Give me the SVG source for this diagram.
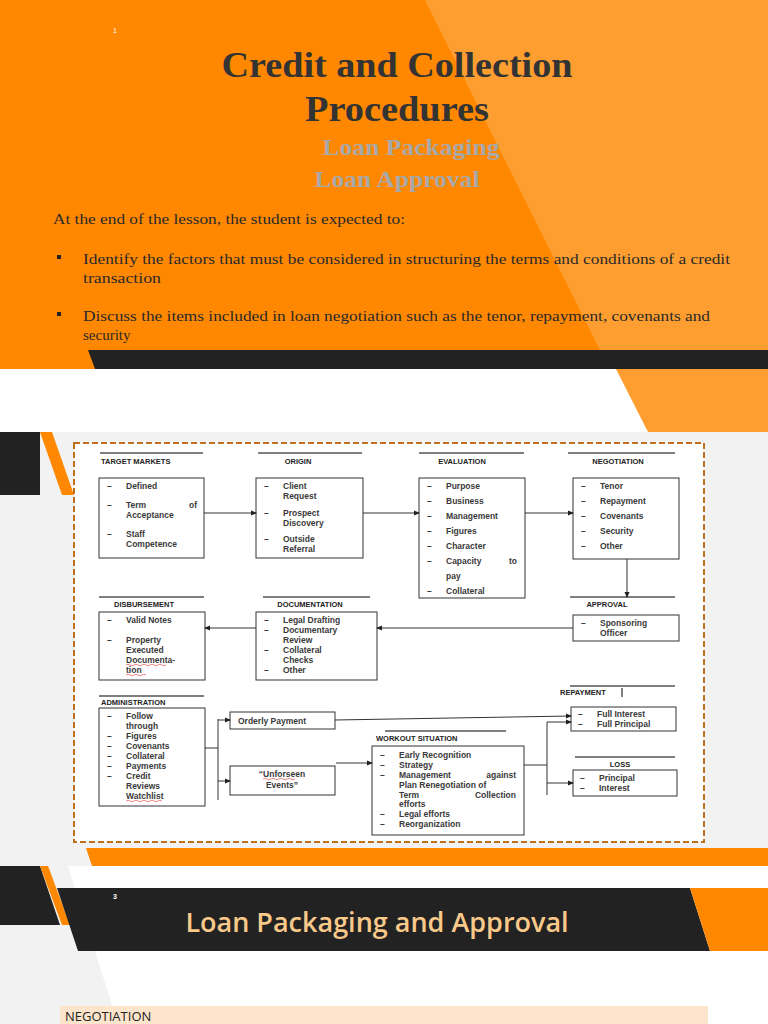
<svg xmlns="http://www.w3.org/2000/svg" width="768" height="1024" viewBox="0 0 768 1024">
<defs>
<marker id="ah" markerWidth="6" markerHeight="6" refX="5" refY="3" orient="auto" markerUnits="userSpaceOnUse"><path d="M0,0.5 L6,3 L0,5.5z" fill="#222"/></marker>
<style>
.t{font-family:"Liberation Sans",Arial,sans-serif;font-size:8.5px;font-weight:bold;fill:#3a3a3a}
.h{font-family:"Liberation Sans",Arial,sans-serif;font-size:7.5px;font-weight:bold;fill:#222}
.b{fill:#fff;stroke:#333;stroke-width:1}
.hl{stroke:#555;stroke-width:1.3}
.c{stroke:#333;stroke-width:1;fill:none}
.ca{stroke:#333;stroke-width:1;fill:none;marker-end:url(#ah)}
.o{font-family:"Liberation Serif","Times New Roman",serif;font-size:15px;fill:#2a2a2a}
</style>
</defs>
<!-- slide 1 -->
<rect x="0" y="0" width="768" height="370" fill="#FF8800"/>
<polygon points="425,0 768,0 768,370 610,370" fill="#FF9E30"/>
<polygon points="88,350 768,350 768,369 95,369" fill="#222"/>
<rect x="0" y="369" width="768" height="63" fill="#fff"/>
<polygon points="616,369 768,369 768,432 648,432" fill="#FF9E30"/>
<text x="113" y="33" font-family="Liberation Sans,sans-serif" font-size="7" fill="#fff">1</text>
<g font-family="'Liberation Serif','Times New Roman',serif" font-weight="bold" text-anchor="middle">
<text x="397" y="77" font-size="36" fill="#333" textLength="351" lengthAdjust="spacingAndGlyphs">Credit and Collection</text>
<text x="397" y="121" font-size="36" fill="#333" textLength="184" lengthAdjust="spacingAndGlyphs">Procedures</text>
<text x="411" y="155" font-size="23" fill="#A8A8A8" textLength="177" lengthAdjust="spacingAndGlyphs">Loan Packaging</text>
<text x="397" y="187" font-size="23" fill="#A8A8A8" textLength="165" lengthAdjust="spacingAndGlyphs">Loan Approval</text>
</g>
<text class="o" x="53" y="224" font-size="16" textLength="352" lengthAdjust="spacingAndGlyphs">At the end of the lesson, the student is expected to:</text>
<rect x="57" y="255" width="4" height="4" fill="#222"/>
<text class="o" x="83" y="264" font-size="16" textLength="647" lengthAdjust="spacingAndGlyphs">Identify the factors that must be considered in structuring the terms and conditions of a credit</text>
<text class="o" x="83" y="283" font-size="16" textLength="78" lengthAdjust="spacingAndGlyphs">transaction</text>
<rect x="57" y="312" width="4" height="4" fill="#222"/>
<text class="o" x="83" y="321" font-size="16" textLength="627" lengthAdjust="spacingAndGlyphs">Discuss the items included in loan negotiation such as the tenor, repayment, covenants and</text>
<text class="o" x="83" y="340" font-size="16">security</text>
<!-- slide 2 -->
<rect x="0" y="432" width="768" height="434" fill="#F2F2F2"/>
<polygon points="0,432 40,432 40,495 0,495" fill="#222"/>
<polygon points="40,432 52,432 74,495 62,495" fill="#FF8800"/>
<polygon points="86,848 768,848 768,866 92,866" fill="#FF8800"/>
<rect x="74" y="443" width="630" height="399" fill="#fff" stroke="#C0701A" stroke-width="2" stroke-dasharray="6,3"/>
<g id="target"><line class="hl" x1="100" y1="453" x2="203" y2="453"/><text class="h" x="101" y="464">TARGET MARKETS</text>
<rect class="b" x="99" y="478" width="105" height="80"/>
<text class="t" x="107" y="489">–</text><text class="t" x="126" y="489">Defined</text>
<text class="t" x="107" y="508">–</text><text class="t" x="126" y="508">Term</text><text class="t" x="197" y="508" text-anchor="end">of</text><text class="t" x="126" y="518">Acceptance</text>
<text class="t" x="107" y="537">–</text><text class="t" x="126" y="537">Staff</text><text class="t" x="126" y="547">Competence</text></g>
<g id="origin"><line class="hl" x1="258" y1="453" x2="362" y2="453"/><text class="h" x="298" y="464" text-anchor="middle">ORIGIN</text>
<rect class="b" x="256" y="478" width="107" height="80"/>
<text class="t" x="264" y="489">–</text><text class="t" x="283" y="489">Client</text><text class="t" x="283" y="499">Request</text>
<text class="t" x="264" y="516">–</text><text class="t" x="283" y="516">Prospect</text><text class="t" x="283" y="526">Discovery</text>
<text class="t" x="264" y="542">–</text><text class="t" x="283" y="542">Outside</text><text class="t" x="283" y="552">Referral</text></g>
<g id="evaluation"><line class="hl" x1="419" y1="453" x2="524" y2="453"/><text class="h" x="462" y="464" text-anchor="middle">EVALUATION</text>
<rect class="b" x="419" y="478" width="106" height="120"/>
<g class="t"><text x="427" y="489">–</text><text x="446" y="489">Purpose</text>
<text x="427" y="504">–</text><text x="446" y="504">Business</text>
<text x="427" y="519">–</text><text x="446" y="519">Management</text>
<text x="427" y="534">–</text><text x="446" y="534">Figures</text>
<text x="427" y="549">–</text><text x="446" y="549">Character</text>
<text x="427" y="564">–</text><text x="446" y="564">Capacity</text><text x="517" y="564" text-anchor="end">to</text><text x="446" y="579">pay</text>
<text x="427" y="594">–</text><text x="446" y="594">Collateral</text></g></g>
<g id="negotiation"><line class="hl" x1="568" y1="453" x2="675" y2="453"/><text class="h" x="618" y="464" text-anchor="middle">NEGOTIATION</text>
<rect class="b" x="573" y="478" width="106" height="81"/>
<g class="t"><text x="581" y="489">–</text><text x="600" y="489">Tenor</text>
<text x="581" y="504">–</text><text x="600" y="504">Repayment</text>
<text x="581" y="519">–</text><text x="600" y="519">Covenants</text>
<text x="581" y="534">–</text><text x="600" y="534">Security</text>
<text x="581" y="549">–</text><text x="600" y="549">Other</text></g></g>
<g id="approval"><line class="hl" x1="570" y1="597" x2="675" y2="597"/><text class="h" x="607" y="607" text-anchor="middle">APPROVAL</text>
<rect class="b" x="573" y="615" width="106" height="26"/>
<text class="t" x="581" y="626">–</text><text class="t" x="600" y="626">Sponsoring</text><text class="t" x="600" y="636">Officer</text></g>
<g id="documentation"><line class="hl" x1="263" y1="597" x2="370" y2="597"/><text class="h" x="310" y="607" text-anchor="middle">DOCUMENTATION</text>
<rect class="b" x="256" y="612" width="121" height="68"/>
<g class="t"><text x="264" y="623">–</text><text x="283" y="623">Legal Drafting</text>
<text x="264" y="633">–</text><text x="283" y="633">Documentary</text><text x="283" y="643">Review</text>
<text x="264" y="653">–</text><text x="283" y="653">Collateral</text><text x="283" y="663">Checks</text>
<text x="264" y="673">–</text><text x="283" y="673">Other</text></g></g>
<g id="disbursement"><line class="hl" x1="99" y1="597" x2="204" y2="597"/><text class="h" x="144" y="607" text-anchor="middle">DISBURSEMENT</text>
<rect class="b" x="99" y="612" width="106" height="68"/>
<g class="t"><text x="107" y="623">–</text><text x="126" y="623">Valid Notes</text>
<text x="107" y="643">–</text><text x="126" y="643">Property</text><text x="126" y="653">Executed</text><text x="126" y="663">Documenta-</text><text x="126" y="673">tion</text></g>
<path d="M126,665 q2,-1.5 4,0 t4,0 t4,0 t4,0 t4,0 t4,0 t4,0 t4,0 t4,0 t4,0 M126,675 q2,-1.5 4,0 t4,0 t4,0 t4,0 t4,0" stroke="#d33" stroke-width="0.6" fill="none"/></g>
<g id="administration"><line class="hl" x1="99" y1="696" x2="204" y2="696"/><text class="h" x="101" y="705">ADMINISTRATION</text>
<rect class="b" x="99" y="708" width="106" height="98"/>
<g class="t"><text x="107" y="719">–</text><text x="126" y="719">Follow</text><text x="126" y="729">through</text>
<text x="107" y="739">–</text><text x="126" y="739">Figures</text>
<text x="107" y="749">–</text><text x="126" y="749">Covenants</text>
<text x="107" y="759">–</text><text x="126" y="759">Collateral</text>
<text x="107" y="769">–</text><text x="126" y="769">Payments</text>
<text x="107" y="779">–</text><text x="126" y="779">Credit</text><text x="126" y="789">Reviews</text><text x="126" y="799">Watchlist</text></g>
<path d="M126,801 q2,-1.5 4,0 t4,0 t4,0 t4,0 t4,0 t4,0 t4,0 t4,0 t4,0" stroke="#d33" stroke-width="0.6" fill="none"/></g>
<g id="orderly"><rect class="b" x="230" y="712" width="105" height="17"/><text class="t" x="238" y="724">Orderly Payment</text></g>
<g id="unforseen"><rect class="b" x="230" y="766" width="105" height="29"/><text class="t" x="282" y="777" text-anchor="middle">“Unforseen</text><text class="t" x="282" y="788" text-anchor="middle">Events”</text>
<path d="M263,779 q2,-1.5 4,0 t4,0 t4,0 t4,0 t4,0 t4,0 t4,0 t4,0" stroke="#d33" stroke-width="0.6" fill="none"/></g>
<g id="workout"><line class="hl" x1="385" y1="731" x2="506" y2="731"/><text class="h" x="376" y="741">WORKOUT SITUATION</text>
<rect class="b" x="372" y="746" width="152" height="89"/>
<g class="t"><text x="380" y="758">–</text><text x="399" y="758">Early Recognition</text>
<text x="380" y="768">–</text><text x="399" y="768">Strategy</text>
<text x="380" y="778">–</text><text x="399" y="778">Management</text><text x="516" y="778" text-anchor="end">against</text>
<text x="399" y="788">Plan Renegotiation of</text>
<text x="399" y="798">Term</text><text x="516" y="798" text-anchor="end">Collection</text>
<text x="399" y="807">efforts</text>
<text x="380" y="817">–</text><text x="399" y="817">Legal efforts</text>
<text x="380" y="827">–</text><text x="399" y="827">Reorganization</text></g></g>
<g id="repayment"><line class="hl" x1="570" y1="686" x2="675" y2="686"/><text class="h" x="560" y="695">REPAYMENT</text><line x1="622" y1="688" x2="622" y2="697" stroke="#000" stroke-width="1"/>
<rect class="b" x="571" y="707" width="105" height="24"/>
<text class="t" x="578" y="717">–</text><text class="t" x="597" y="717">Full Interest</text>
<text class="t" x="578" y="727">–</text><text class="t" x="597" y="727">Full Principal</text></g>
<g id="loss"><line class="hl" x1="575" y1="757" x2="675" y2="757"/><text class="h" x="620" y="767" text-anchor="middle">LOSS</text>
<rect class="b" x="573" y="770" width="104" height="26"/>
<text class="t" x="580" y="781">–</text><text class="t" x="599" y="781">Principal</text>
<text class="t" x="580" y="791">–</text><text class="t" x="599" y="791">Interest</text></g>
<g id="connectors">
<line class="ca" x1="204" y1="513" x2="256" y2="513"/>
<line class="ca" x1="363" y1="513" x2="419" y2="513"/>
<line class="ca" x1="525" y1="513" x2="573" y2="513"/>
<line class="ca" x1="627" y1="559" x2="627" y2="597"/>
<line class="ca" x1="573" y1="628" x2="377" y2="628"/>
<line class="ca" x1="256" y1="628" x2="205" y2="628"/>
<line class="c" x1="205" y1="748" x2="218" y2="748"/>
<line class="c" x1="218" y1="719" x2="218" y2="800"/>
<line class="ca" x1="218" y1="720" x2="230" y2="720"/>
<line class="ca" x1="218" y1="781" x2="230" y2="781"/>
<line class="ca" x1="335" y1="720" x2="571" y2="716"/>
<line class="ca" x1="336" y1="763" x2="372" y2="763"/>
<line class="c" x1="524" y1="765" x2="547" y2="765"/>
<line class="c" x1="547" y1="722" x2="547" y2="795"/>
<line class="ca" x1="547" y1="722" x2="571" y2="722"/>
<line class="ca" x1="547" y1="783" x2="573" y2="783"/>
</g>
<!-- slide 3 -->
<rect x="0" y="866" width="768" height="158" fill="#fff"/>
<polygon points="0,866 68,866 118,1024 0,1024" fill="#F2F2F2"/>
<polygon points="0,866 40,866 60,925 0,925" fill="#222"/>
<polygon points="40,866 48,866 70,925 62,925" fill="#FF8800"/>
<polygon points="57,888 690,888 710,951 78,951" fill="#222"/>
<polygon points="690,888 768,888 768,951 710,951" fill="#FF8800"/>
<text x="113" y="899" font-family="Liberation Sans,sans-serif" font-size="7" font-weight="bold" fill="#fff">3</text>
<text x="377" y="932" text-anchor="middle" font-family="'Open Sans',sans-serif" font-weight="600" font-size="27" fill="#F9C98A">Loan Packaging and Approval</text>
<rect x="60" y="1006" width="648" height="18" fill="#FDE5CC"/>
<text x="65" y="1021" font-family="'Open Sans',sans-serif" font-size="13" fill="#222">NEGOTIATION</text>
</svg>
